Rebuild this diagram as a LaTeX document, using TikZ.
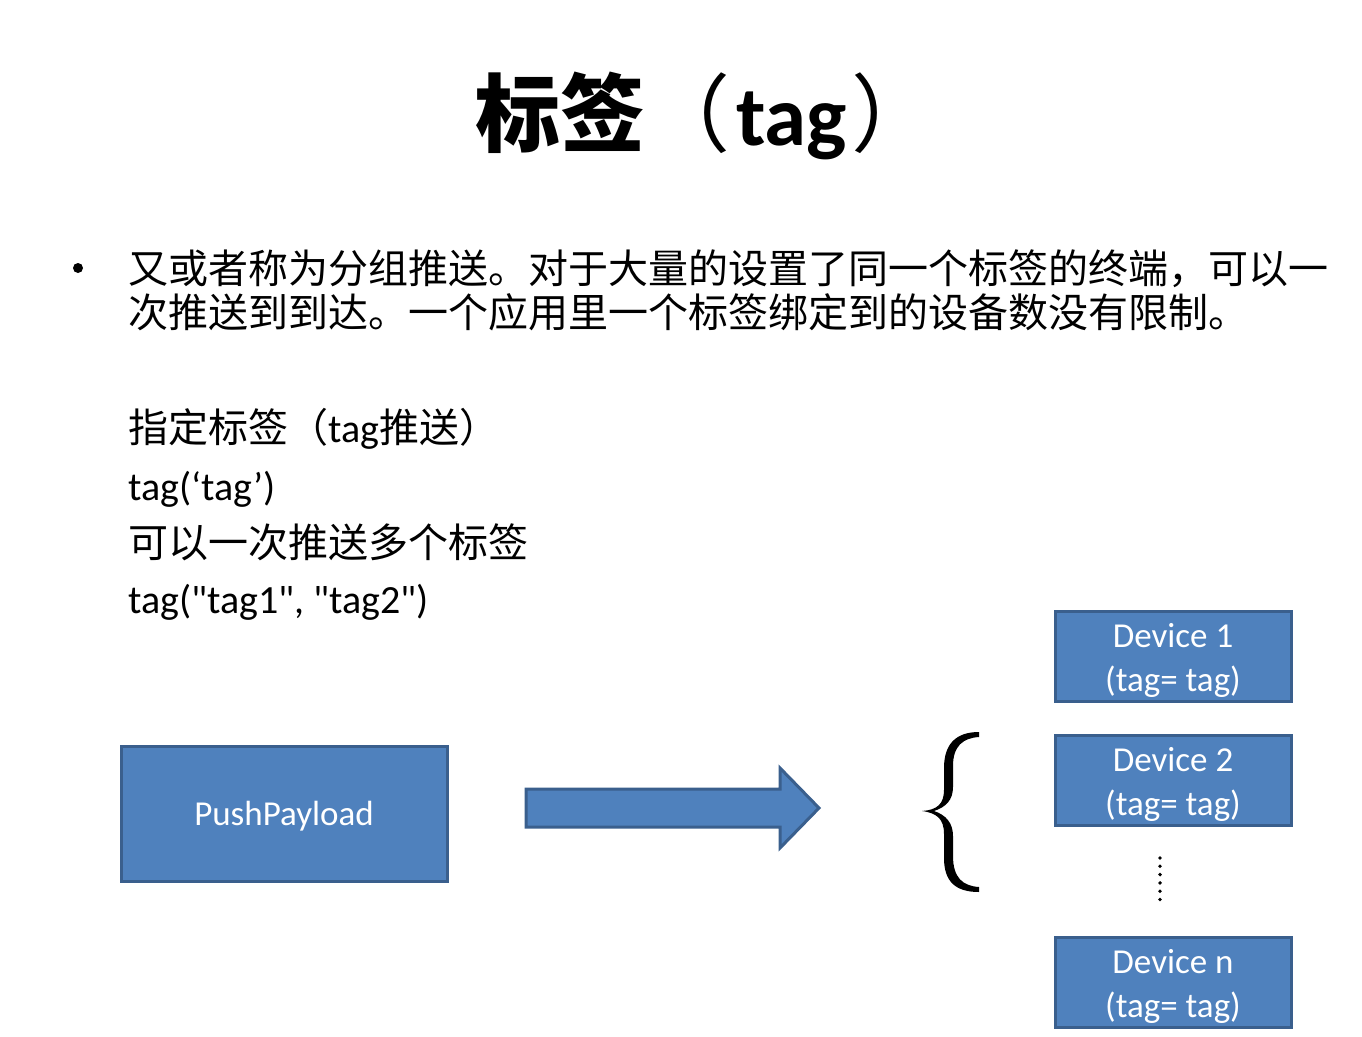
\documentclass[tikz,border=0pt]{standalone}
\usepackage{fontspec}
\setmainfont{Carlito}
\newfontfamily\lat{Carlito}
\newfontfamily\cjk{Noto Sans CJK SC}
\definecolor{fillblue}{HTML}{4F81BD}
\definecolor{edgeblue}{HTML}{3A5F8D}
\tikzset{
  bluebox/.style={draw=edgeblue, fill=fillblue, line width=3pt, text=white, align=center, inner sep=0pt},
  bodytext/.style={anchor=base west, inner sep=0pt, font=\fontsize{40}{48}\selectfont},
  devbox/.style={bluebox, minimum width=236pt, minimum height=90pt},
  devtext/.style={text=white, align=center, inner sep=0pt, font=\fontsize{35}{44}\selectfont},
}
\begin{document}
\begin{tikzpicture}[x=1pt,y=-1pt]
\useasboundingbox (0,0) rectangle (1362,1036);
% title
\node[anchor=base west, inner sep=0pt, font=\fontsize{85}{90}\selectfont] (title) at (475,145)
  {{\cjk\bfseries 标签}{\cjk （}\hspace{6pt}{\bfseries tag}\hspace{4pt}{\cjk ）}};
% bullet
\fill (78,268) circle (5pt);
\node[bodytext] (l1) at (128,283) {\cjk 又或者称为分组推送。对于大量的设置了同一个标签的终端，可以一};
\node[bodytext] (l2) at (128,327) {\cjk 次推送到到达。一个应用里一个标签绑定到的设备数没有限制。};
\node[bodytext] (l3) at (128,442) {{\cjk 指定标签（}tag{\cjk 推送）}};
\node[bodytext] (l4) at (128,500) {tag(‘tag’)};
\node[bodytext] (l5) at (128,557) {\cjk 可以一次推送多个标签};
\node[bodytext] (l6) at (128,613) {\lat tag("tag1", "tag2")};
% PushPayload
\node[bluebox, minimum width=326pt, minimum height=135pt] (push) at (284,814) {};
\node[devtext] (pusht) at ([yshift=-2pt]push.center) {PushPayload};
% block arrow
\draw[draw=edgeblue, fill=fillblue, line width=3pt, line join=miter]
  (526,789) -- (780,789) -- (780,768) -- (819,808) -- (780,848) -- (780,827) -- (526,827) -- cycle;
% brace
\fill (979,732) .. controls (956,732) and (944,744) .. (944,768) -- (944,790)
  .. controls (944,804) and (937,810) .. (922,811)
  .. controls (937,813) and (944,819) .. (944,834) -- (944,858)
  .. controls (944,882) and (956,892) .. (979,892) -- (979,887)
  .. controls (963,886) and (953,878) .. (953,856) -- (953,836)
  .. controls (953,823) and (946,815) .. (934,811)
  .. controls (946,807) and (953,800) .. (953,787) -- (953,766)
  .. controls (953,746) and (963,738) .. (979,737) -- cycle;
% devices
\node[devbox] (d1) at (1173,656) {};
\node[devtext] (d1t) at ([yshift=-4pt]d1.center) {Device 1\\(tag= tag)};
\node[devbox] (d2) at (1173,780) {};
\node[devtext] (d2t) at ([yshift=-4pt]d2.center) {Device 2\\(tag= tag)};
\node[devbox] (dn) at (1173,982) {};
\node[devtext] (dnt) at ([yshift=-4pt]dn.center) {Device n\\(tag= tag)};
% dots
\foreach \k in {0,...,5} \fill (1160,858+8.3*\k) circle (1.9pt);
\end{tikzpicture}
\end{document}
